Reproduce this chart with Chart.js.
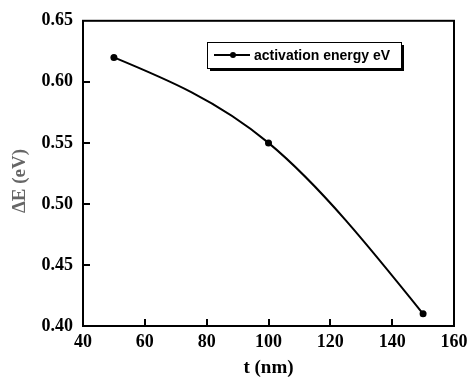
<!DOCTYPE html>
<html>
<head>
<meta charset="utf-8">
<script src="https://cdn.jsdelivr.net/npm/chart.js@4"></script>
<style>
  html, body { margin: 0; padding: 0; background: #fff; }
  #wrap { width: 474px; height: 384px; }
</style>
</head>
<body>
<div id="wrap"><canvas id="grafica" width="474" height="384"></canvas></div>
<script>
// datos
const espesor = [50, 100, 150]          // t (nm)
const energia = [0.62, 0.55, 0.41]      // ΔE (eV)
const etiquetaSerie = 'activation energy eV'
const tituloX = 't (nm)'
const tituloY = 'ΔE (eV)'

const serif = "'Liberation Serif', 'Times New Roman', serif"

// spline cubica natural (como la curva original): reescribe los puntos de control
const splineNatural = {
  id: 'splineNatural',
  beforeDatasetsDraw(chart) {
    const meta = chart.getDatasetMeta(0)
    meta.dataset.updateControlPoints(chart.chartArea)
    const p = meta.data
    const n = p.length
    if (n < 3) return
    const h = [], s = []
    for (let i = 0; i < n - 1; i++) {
      h.push(p[i + 1].x - p[i].x)
      s.push((p[i + 1].y - p[i].y) / h[i])
    }
    // sistema tridiagonal para las segundas derivadas (M0 = Mn = 0)
    const M = new Array(n).fill(0)
    const a = [], b = [], c = [], d = []
    for (let i = 1; i < n - 1; i++) {
      a.push(h[i - 1]); b.push(2 * (h[i - 1] + h[i])); c.push(h[i]); d.push(6 * (s[i] - s[i - 1]))
    }
    const m = b.length
    for (let i = 1; i < m; i++) {
      const w = a[i] / b[i - 1]
      b[i] -= w * c[i - 1]
      d[i] -= w * d[i - 1]
    }
    for (let i = m - 1; i >= 0; i--) {
      M[i + 1] = (d[i] - (i < m - 1 ? c[i] * M[i + 2] : 0)) / b[i]
    }
    for (let i = 0; i < n - 1; i++) {
      const m0 = s[i] - h[i] * (2 * M[i] + M[i + 1]) / 6
      const m1 = s[i] + h[i] * (M[i] + 2 * M[i + 1]) / 6
      p[i].cp2x = p[i].x + h[i] / 3
      p[i].cp2y = p[i].y + m0 * h[i] / 3
      p[i + 1].cp1x = p[i + 1].x - h[i] / 3
      p[i + 1].cp1y = p[i + 1].y - m1 * h[i] / 3
    }
  }
}

// marco, ticks hacia dentro y titulo del eje y
const marco = {
  id: 'marco',
  afterDraw(chart) {
    const ctx = chart.ctx
    const a = chart.chartArea
    const x = chart.scales.x
    const y = chart.scales.y
    ctx.save()
    ctx.strokeStyle = '#000'
    ctx.lineWidth = 2
    ctx.strokeRect(a.left, a.top, a.right - a.left, a.bottom - a.top)
    ctx.beginPath()
    x.ticks.forEach((t, i) => {
      if (i === 0 || i === x.ticks.length - 1) return
      const px = Math.round(x.getPixelForValue(t.value))
      ctx.moveTo(px, a.bottom)
      ctx.lineTo(px, a.bottom - 7)
    })
    y.ticks.forEach((t, i) => {
      if (i === 0 || i === y.ticks.length - 1) return
      const py = Math.round(y.getPixelForValue(t.value))
      ctx.moveTo(a.left, py)
      ctx.lineTo(a.left + 7, py)
    })
    ctx.stroke()
    // titulo y (un poco bajo el centro, como en la figura)
    ctx.translate(20, 181)
    ctx.rotate(-Math.PI / 2)
    ctx.fillStyle = '#666'
    ctx.font = 'bold 19px ' + serif
    ctx.textAlign = 'center'
    ctx.textBaseline = 'middle'
    ctx.fillText(tituloY, 0, 0)
    ctx.restore()
  }
}

// leyenda con sombra
const leyenda = {
  id: 'leyenda',
  afterDraw(chart) {
    const ctx = chart.ctx
    const bx = 207, by = 42, bw = 194, bh = 26
    ctx.save()
    ctx.fillStyle = '#000'
    ctx.fillRect(bx + 3, by + 3, bw, bh)
    ctx.fillStyle = '#fff'
    ctx.fillRect(bx, by, bw, bh)
    ctx.strokeStyle = '#000'
    ctx.lineWidth = 1
    ctx.strokeRect(bx + 0.5, by + 0.5, bw, bh)
    const ly = by + 13
    ctx.lineWidth = 2
    ctx.beginPath()
    ctx.moveTo(bx + 7, ly)
    ctx.lineTo(bx + 43, ly)
    ctx.stroke()
    ctx.fillStyle = '#000'
    ctx.beginPath()
    ctx.arc(bx + 26, ly, 3, 0, Math.PI * 2)
    ctx.fill()
    ctx.font = "bold 14px 'Liberation Sans', Arial, sans-serif"
    ctx.textBaseline = 'middle'
    ctx.fillText(chart.data.datasets[0].label, bx + 47, ly + 1)
    ctx.restore()
  }
}

const canva = document.querySelector('#grafica')
new Chart(canva, {
  type: 'line',
  data: {
    labels: espesor,
    datasets: [{
      label: etiquetaSerie,
      data: espesor.map((t, i) => ({ x: t, y: energia[i] })),
      borderColor: '#000',
      backgroundColor: '#000',
      borderWidth: 2,
      pointRadius: 3.5,
      pointBorderWidth: 0,
      tension: 0.4
    }]
  },
  options: {
    responsive: false,
    animation: false,
    layout: { padding: { left: 0, top: 16, right: 20, bottom: 0 } },
    plugins: { legend: { display: false }, tooltip: { enabled: false } },
    scales: {
      x: {
        type: 'linear',
        min: 40, max: 160,
        border: { display: false },
        grid: { display: false, drawTicks: false },
        afterFit: s => { s.height = 58 },
        ticks: {
          stepSize: 20,
          color: '#000',
          padding: 6,
          font: { family: serif, size: 18, weight: 'bold' }
        },
        title: {
          display: true,
          text: tituloX,
          color: '#000',
          padding: { top: 0, bottom: 5 },
          font: { family: serif, size: 19, weight: 'bold' }
        }
      },
      y: {
        min: 0.40, max: 0.65,
        border: { display: false },
        grid: { display: false, drawTicks: false },
        afterFit: s => { s.width = 83 },
        ticks: {
          stepSize: 0.05,
          color: '#000',
          padding: 10,
          font: { family: serif, size: 18, weight: 'bold' },
          callback: v => v.toFixed(2)
        }
      }
    }
  },
  plugins: [splineNatural, marco, leyenda]
})
</script>
</body>
</html>
